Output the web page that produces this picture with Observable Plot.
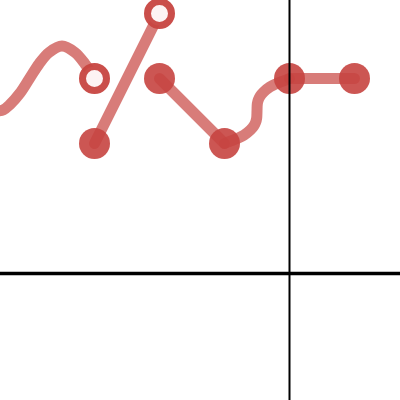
<!DOCTYPE html>
<html><head><meta charset="utf-8">
<script src="https://cdn.jsdelivr.net/npm/d3@7"></script>
<script src="https://cdn.jsdelivr.net/npm/@observablehq/plot@0.6"></script>
<style>html,body{margin:0;padding:0;background:#fff;overflow:hidden}</style>
</head><body><div id="chart"></div>
<script>
// Piece 1: wavy curve ending at open point (-3,3)
const wave = [
  {x:-4.6,y:2.52},{x:-4.5,y:2.5},{x:-4.4,y:2.52},{x:-4.3,y:2.60},{x:-4.15,y:2.77},{x:-4.0,y:3.0},
  {x:-3.85,y:3.23},{x:-3.7,y:3.40},{x:-3.5,y:3.5},{x:-3.3,y:3.40},{x:-3.15,y:3.23},{x:-3.0,y:3.0}
];
// Piece 2: straight line (-3,2) -> (-2,4)
const rise = [{x:-3,y:2},{x:-2,y:4}];
// Piece 3: straight line (-2,3) -> (-1,2)
const fall = [{x:-2,y:3},{x:-1,y:2}];
// Piece 4: S curve (-1,2) -> (0,3)
const sCurve = [
  {x:-1,y:2},{x:-0.9,y:2.04},{x:-0.8,y:2.08},{x:-0.7,y:2.13},{x:-0.6,y:2.21},
  {x:-0.55,y:2.27},{x:-0.52,y:2.33},{x:-0.505,y:2.39},{x:-0.5,y:2.5},{x:-0.495,y:2.61},
  {x:-0.48,y:2.67},{x:-0.45,y:2.73},{x:-0.4,y:2.79},{x:-0.3,y:2.87},{x:-0.2,y:2.92},
  {x:-0.1,y:2.96},{x:0,y:3}
];
// Piece 5: flat (0,3) -> (1,3)
const flat = [{x:0,y:3},{x:1,y:3}];
const filledPts = [{x:-3,y:2},{x:-2,y:3},{x:-1,y:2},{x:0,y:3},{x:1,y:3}];
const openPts = [{x:-3,y:3},{x:-2,y:4}];

const red = "#c74440";
const lineOpts = {x:"x", y:"y", stroke:red, strokeOpacity:0.7, strokeWidth:11, strokeLinecap:"round", strokeLinejoin:"round"};

const chart = Plot.plot({
  width:400, height:400,
  margin:0,
  x:{domain:[-289/65, 111/65], axis:null},
  y:{domain:[-127/65, 273/65], axis:null},
  marks:[
    Plot.line(wave, {...lineOpts, curve:"catmull-rom", clip:true}),
    Plot.line(rise, lineOpts),
    Plot.line(fall, lineOpts),
    Plot.line(sCurve, {...lineOpts, curve:"catmull-rom"}),
    Plot.line(flat, lineOpts),
    Plot.dot(filledPts, {x:"x", y:"y", r:15.5, fill:red, fillOpacity:0.9, stroke:"none"}),
    Plot.dot(openPts, {x:"x", y:"y", r:12, fill:"#fdf3f3", stroke:red, strokeWidth:7, strokeOpacity:0.95}),
    Plot.ruleY([0], {stroke:"#000", strokeWidth:3.5}),
    Plot.ruleX([0], {stroke:"#000", strokeWidth:2})
  ]
});
document.getElementById("chart").appendChild(chart);
</script>
</body></html>
